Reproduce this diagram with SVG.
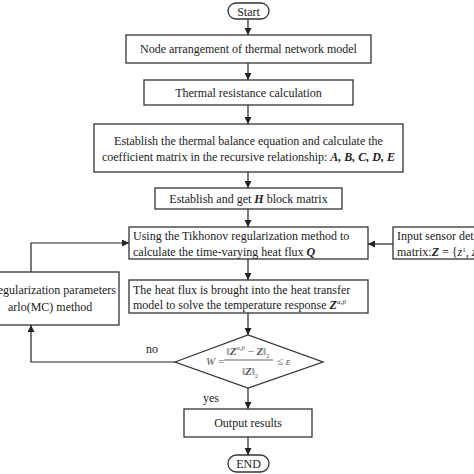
<svg xmlns="http://www.w3.org/2000/svg" width="474" height="474" viewBox="0 0 474 474">
<defs>
<marker id="ah" viewBox="0 0 10 10" refX="10" refY="5" markerWidth="7" markerHeight="7" markerUnits="userSpaceOnUse" orient="auto">
<path d="M0,0 L10,5 L0,10 z" fill="#222"/>
</marker>
<style>
.box{fill:#fff;stroke:#333;stroke-width:1.3}
.t{font-family:"Liberation Serif","Times New Roman",serif;font-size:12px;fill:#222}
.c{text-anchor:middle}
.m{font-weight:bold;font-style:italic}
.f{font-family:"Liberation Serif","Times New Roman",serif;font-size:11px;fill:#555}
.ln{fill:none;stroke:#222;stroke-width:1.2}
</style>
</defs>
<rect width="474" height="474" fill="#fff"/>
<g id="connectors">
<line class="ln" x1="248" y1="19" x2="248" y2="35" marker-end="url(#ah)"/>
<line class="ln" x1="248" y1="63" x2="248" y2="80" marker-end="url(#ah)"/>
<line class="ln" x1="248" y1="105" x2="248" y2="124" marker-end="url(#ah)"/>
<line class="ln" x1="248" y1="172" x2="248" y2="188" marker-end="url(#ah)"/>
<line class="ln" x1="248" y1="209" x2="248" y2="227" marker-end="url(#ah)"/>
<line class="ln" x1="248" y1="259" x2="248" y2="280" marker-end="url(#ah)"/>
<line class="ln" x1="248" y1="313" x2="248" y2="335" marker-end="url(#ah)"/>
<line class="ln" x1="248" y1="388" x2="248" y2="409" marker-end="url(#ah)"/>
<line class="ln" x1="248" y1="437" x2="248" y2="455" marker-end="url(#ah)"/>
<line class="ln" x1="393" y1="244" x2="368" y2="244" marker-end="url(#ah)"/>
<polyline class="ln" points="175,362 31,362 31,325" marker-end="url(#ah)"/>
<polyline class="ln" points="31,272 31,243 129,243" marker-end="url(#ah)"/>
<text class="t c" x="152" y="353">no</text>
<text class="t c" x="211" y="402">yes</text>
</g>
<g id="start">
<rect class="box" x="228" y="3" width="41" height="16" rx="8"/>
<text class="t c" x="248.5" y="15.5">Start</text>
</g>
<g id="node-arrangement">
<rect class="box" x="126" y="35" width="245" height="28"/>
<text class="t c" x="248.5" y="53">Node arrangement of thermal network model</text>
</g>
<g id="thermal-resistance">
<rect class="box" x="144" y="80" width="209" height="25"/>
<text class="t c" x="248.5" y="96.5">Thermal resistance calculation</text>
</g>
<g id="balance-equation">
<rect class="box" x="94" y="124" width="309" height="48"/>
<text class="t c" x="248.5" y="145">Establish the thermal balance equation and calculate the</text>
<text class="t c" x="248.5" y="161">coefficient matrix in the recursive relationship: <tspan class="m">A, B, C, D, E</tspan></text>
</g>
<g id="h-block">
<rect class="box" x="155" y="188" width="187" height="21"/>
<text class="t c" x="248.5" y="202.5">Establish and get <tspan class="m">H</tspan> block matrix</text>
</g>
<g id="tikhonov">
<rect class="box" x="129" y="227" width="239" height="32"/>
<text class="t" x="133" y="240">Using the Tikhonov regularization method  to</text>
<text class="t" x="133" y="255.5">calculate the time-varying heat flux  <tspan class="m">Q</tspan></text>
</g>
<g id="sensor-input">
<rect class="box" x="393" y="227" width="95" height="32"/>
<text class="t" x="397" y="240">Input sensor det</text>
<text class="t" x="397" y="255.5">matrix:<tspan class="m">Z</tspan> = {<tspan font-style="italic">z</tspan><tspan font-size="7" dy="-4">1</tspan><tspan dy="4">, </tspan><tspan font-style="italic">z</tspan></text>
</g>
<g id="heat-transfer">
<rect class="box" x="129" y="280" width="239" height="33"/>
<text class="t" x="133" y="293.5">The heat flux is brought into the heat transfer</text>
<text class="t" x="133" y="309">model to solve the temperature response <tspan class="m">Z</tspan><tspan font-size="7" font-style="italic" dy="-5">α,β</tspan></text>
</g>
<g id="regularization-params">
<rect class="box" x="-10" y="272" width="129" height="53"/>
<text class="t" x="116" y="294" text-anchor="end">egularization parameters</text>
<text class="t" x="8" y="311">arlo(MC) method</text>
</g>
<g id="decision">
<polygon class="box" points="175,362 248,335 323,362 248,388"/>
<text class="f" x="206" y="365" font-style="italic">W</text>
<text class="f" x="218" y="365">=</text>
<text class="f" x="248" y="355" text-anchor="middle">‖<tspan font-weight="bold" font-style="italic">Z</tspan><tspan font-size="6.5" font-style="italic" dy="-5">α,β</tspan><tspan dy="5"> − </tspan><tspan font-weight="bold" font-style="italic">Z</tspan>‖<tspan font-size="6.5" dy="3">2</tspan></text>
<line x1="224" y1="360" x2="273" y2="360" stroke="#555" stroke-width="0.9"/>
<text class="f" x="250" y="375" text-anchor="middle">‖<tspan font-weight="bold" font-style="italic">Z</tspan>‖<tspan font-size="6.5" dy="3">2</tspan></text>
<text class="f" x="277" y="365">≤ <tspan font-style="italic">ε</tspan></text>
</g>
<g id="output">
<rect class="box" x="184" y="409" width="128" height="28"/>
<text class="t c" x="248" y="427">Output results</text>
</g>
<g id="end">
<rect class="box" x="228" y="455" width="41" height="17" rx="8.5"/>
<text class="t c" x="248.5" y="467.5">END</text>
</g>
</svg>
